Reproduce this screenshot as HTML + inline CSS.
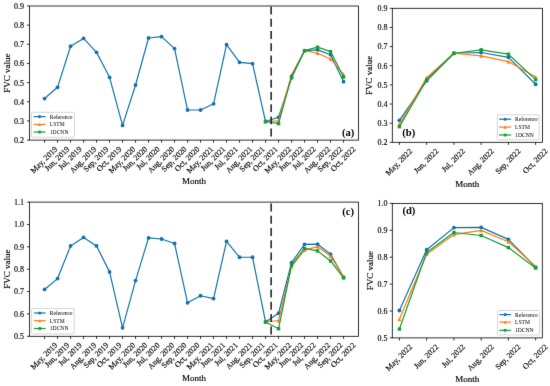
<!DOCTYPE html>
<html><head><meta charset="utf-8"><title>FVC value comparison</title><style>
html,body{margin:0;padding:0;background:#fff;}
body{width:550px;height:386px;overflow:hidden;}
svg{display:block;}
text{font-family:"Liberation Serif","Times New Roman",serif;fill:#000;}
.tk{font-size:8.0px;stroke:#000;stroke-width:0.15px;}
.al{font-size:9.0px;stroke:#000;stroke-width:0.15px;}
.lg{font-size:5.6px;}
.pl{font-size:10.6px;font-weight:bold;}
</style></head>
<body><svg width="550" height="386" viewBox="0 0 550 386">
<defs><filter id="soft" x="0" y="0" width="550" height="386" filterUnits="userSpaceOnUse" color-interpolation-filters="sRGB"><feConvolveMatrix order="3" kernelMatrix="0.00524 0.06192 0.00524 0.06192 0.73137 0.06192 0.00524 0.06192 0.00524" divisor="1" edgeMode="duplicate"/></filter></defs>
<g filter="url(#soft)">
<rect width="550" height="386" fill="#fff"/>
<g>
<clipPath id="clipa"><rect x="29.6" y="6.0" width="328.9" height="134.1"/></clipPath>
<polyline points="44.55,98.53 57.55,87.32 70.55,46.23 83.55,38.43 96.55,52.36 109.55,77.34 122.55,125.43 135.55,85.02 148.55,37.99 161.55,36.65 174.55,48.61 187.55,110.02 200.55,110.02 213.55,103.78 226.55,44.70 239.55,62.32 252.55,63.66 265.55,121.52 278.55,117.30 291.55,77.84 304.55,50.64 317.55,49.87 330.55,54.72 343.55,81.67" fill="none" stroke="#1272a8" stroke-width="1.2" stroke-linejoin="round" stroke-linecap="butt" clip-path="url(#clipa)"/>
<circle cx="44.55" cy="98.53" r="1.90" fill="#1272a8"/>
<circle cx="57.55" cy="87.32" r="1.90" fill="#1272a8"/>
<circle cx="70.55" cy="46.23" r="1.90" fill="#1272a8"/>
<circle cx="83.55" cy="38.43" r="1.90" fill="#1272a8"/>
<circle cx="96.55" cy="52.36" r="1.90" fill="#1272a8"/>
<circle cx="109.55" cy="77.34" r="1.90" fill="#1272a8"/>
<circle cx="122.55" cy="125.43" r="1.90" fill="#1272a8"/>
<circle cx="135.55" cy="85.02" r="1.90" fill="#1272a8"/>
<circle cx="148.55" cy="37.99" r="1.90" fill="#1272a8"/>
<circle cx="161.55" cy="36.65" r="1.90" fill="#1272a8"/>
<circle cx="174.55" cy="48.61" r="1.90" fill="#1272a8"/>
<circle cx="187.55" cy="110.02" r="1.90" fill="#1272a8"/>
<circle cx="200.55" cy="110.02" r="1.90" fill="#1272a8"/>
<circle cx="213.55" cy="103.78" r="1.90" fill="#1272a8"/>
<circle cx="226.55" cy="44.70" r="1.90" fill="#1272a8"/>
<circle cx="239.55" cy="62.32" r="1.90" fill="#1272a8"/>
<circle cx="252.55" cy="63.66" r="1.90" fill="#1272a8"/>
<circle cx="265.55" cy="121.52" r="1.90" fill="#1272a8"/>
<circle cx="278.55" cy="117.30" r="1.90" fill="#1272a8"/>
<circle cx="291.55" cy="77.84" r="1.90" fill="#1272a8"/>
<circle cx="304.55" cy="50.64" r="1.90" fill="#1272a8"/>
<circle cx="317.55" cy="49.87" r="1.90" fill="#1272a8"/>
<circle cx="330.55" cy="54.72" r="1.90" fill="#1272a8"/>
<circle cx="343.55" cy="81.67" r="1.90" fill="#1272a8"/>
<polyline points="265.55,121.52 278.55,120.94 291.55,74.77 304.55,50.64 317.55,53.22 330.55,58.93 343.55,74.39" fill="none" stroke="#fb7d12" stroke-width="1.2" stroke-linejoin="round" stroke-linecap="butt" clip-path="url(#clipa)"/>
<polygon points="265.55,119.62 263.65,123.42 267.45,123.42" fill="#fb7d12"/>
<polygon points="278.55,119.04 276.65,122.84 280.45,122.84" fill="#fb7d12"/>
<polygon points="291.55,72.87 289.65,76.67 293.45,76.67" fill="#fb7d12"/>
<polygon points="304.55,48.74 302.65,52.54 306.45,52.54" fill="#fb7d12"/>
<polygon points="317.55,51.32 315.65,55.12 319.45,55.12" fill="#fb7d12"/>
<polygon points="330.55,57.03 328.65,60.83 332.45,60.83" fill="#fb7d12"/>
<polygon points="343.55,72.49 341.65,76.29 345.45,76.29" fill="#fb7d12"/>
<polyline points="265.55,121.52 278.55,123.62 291.55,76.69 304.55,50.64 317.55,47.19 330.55,51.59 343.55,77.07" fill="none" stroke="#169c34" stroke-width="1.2" stroke-linejoin="round" stroke-linecap="butt" clip-path="url(#clipa)"/>
<rect x="263.87" y="119.83" width="3.37" height="3.37" fill="#169c34"/>
<rect x="276.87" y="121.94" width="3.37" height="3.37" fill="#169c34"/>
<rect x="289.87" y="75.01" width="3.37" height="3.37" fill="#169c34"/>
<rect x="302.87" y="48.95" width="3.37" height="3.37" fill="#169c34"/>
<rect x="315.87" y="45.50" width="3.37" height="3.37" fill="#169c34"/>
<rect x="328.87" y="49.91" width="3.37" height="3.37" fill="#169c34"/>
<rect x="341.87" y="75.39" width="3.37" height="3.37" fill="#169c34"/>
<line x1="271.14" y1="6.60" x2="271.14" y2="140.10" stroke="#1a1a1a" stroke-width="1.5" stroke-dasharray="7.9 4.3"/>
<rect x="29.60" y="6.00" width="328.90" height="134.10" fill="none" stroke="#000" stroke-width="0.8"/>
<line x1="27.00" y1="140.10" x2="29.60" y2="140.10" stroke="#000" stroke-width="0.8"/>
<text x="24.10" y="143.00" text-anchor="end" class="tk">0.2</text>
<line x1="27.00" y1="120.94" x2="29.60" y2="120.94" stroke="#000" stroke-width="0.8"/>
<text x="24.10" y="123.84" text-anchor="end" class="tk">0.3</text>
<line x1="27.00" y1="101.79" x2="29.60" y2="101.79" stroke="#000" stroke-width="0.8"/>
<text x="24.10" y="104.69" text-anchor="end" class="tk">0.4</text>
<line x1="27.00" y1="82.63" x2="29.60" y2="82.63" stroke="#000" stroke-width="0.8"/>
<text x="24.10" y="85.53" text-anchor="end" class="tk">0.5</text>
<line x1="27.00" y1="63.47" x2="29.60" y2="63.47" stroke="#000" stroke-width="0.8"/>
<text x="24.10" y="66.37" text-anchor="end" class="tk">0.6</text>
<line x1="27.00" y1="44.31" x2="29.60" y2="44.31" stroke="#000" stroke-width="0.8"/>
<text x="24.10" y="47.21" text-anchor="end" class="tk">0.7</text>
<line x1="27.00" y1="25.16" x2="29.60" y2="25.16" stroke="#000" stroke-width="0.8"/>
<text x="24.10" y="28.06" text-anchor="end" class="tk">0.8</text>
<line x1="27.00" y1="6.00" x2="29.60" y2="6.00" stroke="#000" stroke-width="0.8"/>
<text x="24.10" y="8.90" text-anchor="end" class="tk">0.9</text>
<line x1="44.55" y1="140.10" x2="44.55" y2="142.70" stroke="#000" stroke-width="0.8"/>
<text transform="translate(57.94,149.56) rotate(-45)" text-anchor="end" class="tk">May, 2019</text>
<line x1="57.55" y1="140.10" x2="57.55" y2="142.70" stroke="#000" stroke-width="0.8"/>
<text transform="translate(69.87,149.56) rotate(-45)" text-anchor="end" class="tk">Jun, 2019</text>
<line x1="70.55" y1="140.10" x2="70.55" y2="142.70" stroke="#000" stroke-width="0.8"/>
<text transform="translate(82.24,149.56) rotate(-45)" text-anchor="end" class="tk">Jul, 2019</text>
<line x1="83.55" y1="140.10" x2="83.55" y2="142.70" stroke="#000" stroke-width="0.8"/>
<text transform="translate(96.81,149.56) rotate(-45)" text-anchor="end" class="tk">Aug, 2019</text>
<line x1="96.55" y1="140.10" x2="96.55" y2="142.70" stroke="#000" stroke-width="0.8"/>
<text transform="translate(109.18,149.56) rotate(-45)" text-anchor="end" class="tk">Sep, 2019</text>
<line x1="109.55" y1="140.10" x2="109.55" y2="142.70" stroke="#000" stroke-width="0.8"/>
<text transform="translate(122.02,149.56) rotate(-45)" text-anchor="end" class="tk">Oct, 2019</text>
<line x1="122.55" y1="140.10" x2="122.55" y2="142.70" stroke="#000" stroke-width="0.8"/>
<text transform="translate(135.94,149.56) rotate(-45)" text-anchor="end" class="tk">May, 2020</text>
<line x1="135.55" y1="140.10" x2="135.55" y2="142.70" stroke="#000" stroke-width="0.8"/>
<text transform="translate(147.87,149.56) rotate(-45)" text-anchor="end" class="tk">Jun, 2020</text>
<line x1="148.55" y1="140.10" x2="148.55" y2="142.70" stroke="#000" stroke-width="0.8"/>
<text transform="translate(160.24,149.56) rotate(-45)" text-anchor="end" class="tk">Jul, 2020</text>
<line x1="161.55" y1="140.10" x2="161.55" y2="142.70" stroke="#000" stroke-width="0.8"/>
<text transform="translate(174.81,149.56) rotate(-45)" text-anchor="end" class="tk">Aug, 2020</text>
<line x1="174.55" y1="140.10" x2="174.55" y2="142.70" stroke="#000" stroke-width="0.8"/>
<text transform="translate(187.18,149.56) rotate(-45)" text-anchor="end" class="tk">Sep, 2020</text>
<line x1="187.55" y1="140.10" x2="187.55" y2="142.70" stroke="#000" stroke-width="0.8"/>
<text transform="translate(200.02,149.56) rotate(-45)" text-anchor="end" class="tk">Oct, 2020</text>
<line x1="200.55" y1="140.10" x2="200.55" y2="142.70" stroke="#000" stroke-width="0.8"/>
<text transform="translate(213.94,149.56) rotate(-45)" text-anchor="end" class="tk">May, 2021</text>
<line x1="213.55" y1="140.10" x2="213.55" y2="142.70" stroke="#000" stroke-width="0.8"/>
<text transform="translate(225.87,149.56) rotate(-45)" text-anchor="end" class="tk">Jun, 2021</text>
<line x1="226.55" y1="140.10" x2="226.55" y2="142.70" stroke="#000" stroke-width="0.8"/>
<text transform="translate(238.24,149.56) rotate(-45)" text-anchor="end" class="tk">Jul, 2021</text>
<line x1="239.55" y1="140.10" x2="239.55" y2="142.70" stroke="#000" stroke-width="0.8"/>
<text transform="translate(252.81,149.56) rotate(-45)" text-anchor="end" class="tk">Aug, 2021</text>
<line x1="252.55" y1="140.10" x2="252.55" y2="142.70" stroke="#000" stroke-width="0.8"/>
<text transform="translate(265.18,149.56) rotate(-45)" text-anchor="end" class="tk">Sep, 2021</text>
<line x1="265.55" y1="140.10" x2="265.55" y2="142.70" stroke="#000" stroke-width="0.8"/>
<text transform="translate(278.02,149.56) rotate(-45)" text-anchor="end" class="tk">Oct, 2021</text>
<line x1="278.55" y1="140.10" x2="278.55" y2="142.70" stroke="#000" stroke-width="0.8"/>
<text transform="translate(291.94,149.56) rotate(-45)" text-anchor="end" class="tk">May, 2022</text>
<line x1="291.55" y1="140.10" x2="291.55" y2="142.70" stroke="#000" stroke-width="0.8"/>
<text transform="translate(303.87,149.56) rotate(-45)" text-anchor="end" class="tk">Jun, 2022</text>
<line x1="304.55" y1="140.10" x2="304.55" y2="142.70" stroke="#000" stroke-width="0.8"/>
<text transform="translate(316.24,149.56) rotate(-45)" text-anchor="end" class="tk">Jul, 2022</text>
<line x1="317.55" y1="140.10" x2="317.55" y2="142.70" stroke="#000" stroke-width="0.8"/>
<text transform="translate(330.81,149.56) rotate(-45)" text-anchor="end" class="tk">Aug, 2022</text>
<line x1="330.55" y1="140.10" x2="330.55" y2="142.70" stroke="#000" stroke-width="0.8"/>
<text transform="translate(343.18,149.56) rotate(-45)" text-anchor="end" class="tk">Sep, 2022</text>
<line x1="343.55" y1="140.10" x2="343.55" y2="142.70" stroke="#000" stroke-width="0.8"/>
<text transform="translate(356.02,149.56) rotate(-45)" text-anchor="end" class="tk">Oct, 2022</text>
<text x="194.05" y="184.20" text-anchor="middle" class="al">Month</text>
<text transform="translate(10.20,73.05) rotate(-90)" text-anchor="middle" class="al">FVC value</text>
<text x="341.90" y="136.00" class="pl">(a)</text>
<rect x="31.50" y="112.30" width="43.00" height="25.00" rx="1.2" ry="1.2" fill="#fff" fill-opacity="0.8" stroke="#cccccc" stroke-width="0.8"/>
<line x1="33.60" y1="116.60" x2="45.50" y2="116.60" stroke="#1272a8" stroke-width="1.2"/>
<circle cx="39.55" cy="116.60" r="1.56" fill="#1272a8"/>
<text x="49.80" y="118.50" class="lg">Reference</text>
<line x1="33.60" y1="124.40" x2="45.50" y2="124.40" stroke="#fb7d12" stroke-width="1.2"/>
<polygon points="39.55,122.84 37.99,125.96 41.11,125.96" fill="#fb7d12"/>
<text x="49.80" y="126.30" class="lg">LSTM</text>
<line x1="33.60" y1="132.00" x2="45.50" y2="132.00" stroke="#169c34" stroke-width="1.2"/>
<rect x="38.17" y="130.62" width="2.76" height="2.76" fill="#169c34"/>
<text x="49.80" y="133.90" class="lg">1DCNN</text>
</g>
<g>
<clipPath id="clipb"><rect x="392.3" y="8.3" width="150.09999999999997" height="134.0"/></clipPath>
<polyline points="399.40,120.35 426.65,80.82 453.90,53.25 481.15,52.49 508.40,57.33 535.65,84.26" fill="none" stroke="#1272a8" stroke-width="1.2" stroke-linejoin="round" stroke-linecap="butt" clip-path="url(#clipb)"/>
<circle cx="399.40" cy="120.35" r="1.90" fill="#1272a8"/>
<circle cx="426.65" cy="80.82" r="1.90" fill="#1272a8"/>
<circle cx="453.90" cy="53.25" r="1.90" fill="#1272a8"/>
<circle cx="481.15" cy="52.49" r="1.90" fill="#1272a8"/>
<circle cx="508.40" cy="57.33" r="1.90" fill="#1272a8"/>
<circle cx="535.65" cy="84.26" r="1.90" fill="#1272a8"/>
<polyline points="399.40,123.99 426.65,77.76 453.90,53.25 481.15,55.84 508.40,61.54 535.65,76.99" fill="none" stroke="#fb7d12" stroke-width="1.2" stroke-linejoin="round" stroke-linecap="butt" clip-path="url(#clipb)"/>
<polygon points="399.40,122.09 397.50,125.89 401.30,125.89" fill="#fb7d12"/>
<polygon points="426.65,75.86 424.75,79.66 428.55,79.66" fill="#fb7d12"/>
<polygon points="453.90,51.35 452.00,55.15 455.80,55.15" fill="#fb7d12"/>
<polygon points="481.15,53.94 479.25,57.74 483.05,57.74" fill="#fb7d12"/>
<polygon points="508.40,59.64 506.50,63.44 510.30,63.44" fill="#fb7d12"/>
<polygon points="535.65,75.09 533.75,78.89 537.55,78.89" fill="#fb7d12"/>
<polyline points="399.40,126.67 426.65,79.67 453.90,53.25 481.15,49.81 508.40,54.21 535.65,79.67" fill="none" stroke="#169c34" stroke-width="1.2" stroke-linejoin="round" stroke-linecap="butt" clip-path="url(#clipb)"/>
<rect x="397.72" y="124.98" width="3.37" height="3.37" fill="#169c34"/>
<rect x="424.97" y="77.99" width="3.37" height="3.37" fill="#169c34"/>
<rect x="452.22" y="51.57" width="3.37" height="3.37" fill="#169c34"/>
<rect x="479.47" y="48.12" width="3.37" height="3.37" fill="#169c34"/>
<rect x="506.72" y="52.53" width="3.37" height="3.37" fill="#169c34"/>
<rect x="533.97" y="77.99" width="3.37" height="3.37" fill="#169c34"/>
<rect x="392.30" y="8.30" width="150.10" height="134.00" fill="none" stroke="#000" stroke-width="0.8"/>
<line x1="389.70" y1="142.30" x2="392.30" y2="142.30" stroke="#000" stroke-width="0.8"/>
<text x="387.50" y="145.20" text-anchor="end" class="tk">0.2</text>
<line x1="389.70" y1="123.16" x2="392.30" y2="123.16" stroke="#000" stroke-width="0.8"/>
<text x="387.50" y="126.06" text-anchor="end" class="tk">0.3</text>
<line x1="389.70" y1="104.01" x2="392.30" y2="104.01" stroke="#000" stroke-width="0.8"/>
<text x="387.50" y="106.91" text-anchor="end" class="tk">0.4</text>
<line x1="389.70" y1="84.87" x2="392.30" y2="84.87" stroke="#000" stroke-width="0.8"/>
<text x="387.50" y="87.77" text-anchor="end" class="tk">0.5</text>
<line x1="389.70" y1="65.73" x2="392.30" y2="65.73" stroke="#000" stroke-width="0.8"/>
<text x="387.50" y="68.63" text-anchor="end" class="tk">0.6</text>
<line x1="389.70" y1="46.59" x2="392.30" y2="46.59" stroke="#000" stroke-width="0.8"/>
<text x="387.50" y="49.49" text-anchor="end" class="tk">0.7</text>
<line x1="389.70" y1="27.44" x2="392.30" y2="27.44" stroke="#000" stroke-width="0.8"/>
<text x="387.50" y="30.34" text-anchor="end" class="tk">0.8</text>
<line x1="389.70" y1="8.30" x2="392.30" y2="8.30" stroke="#000" stroke-width="0.8"/>
<text x="387.50" y="11.20" text-anchor="end" class="tk">0.9</text>
<line x1="399.40" y1="142.30" x2="399.40" y2="144.90" stroke="#000" stroke-width="0.8"/>
<text transform="translate(412.79,151.76) rotate(-45)" text-anchor="end" class="tk">May, 2022</text>
<line x1="426.65" y1="142.30" x2="426.65" y2="144.90" stroke="#000" stroke-width="0.8"/>
<text transform="translate(438.97,151.76) rotate(-45)" text-anchor="end" class="tk">Jun, 2022</text>
<line x1="453.90" y1="142.30" x2="453.90" y2="144.90" stroke="#000" stroke-width="0.8"/>
<text transform="translate(465.59,151.76) rotate(-45)" text-anchor="end" class="tk">Jul, 2022</text>
<line x1="481.15" y1="142.30" x2="481.15" y2="144.90" stroke="#000" stroke-width="0.8"/>
<text transform="translate(494.41,151.76) rotate(-45)" text-anchor="end" class="tk">Aug, 2022</text>
<line x1="508.40" y1="142.30" x2="508.40" y2="144.90" stroke="#000" stroke-width="0.8"/>
<text transform="translate(521.03,151.76) rotate(-45)" text-anchor="end" class="tk">Sep, 2022</text>
<line x1="535.65" y1="142.30" x2="535.65" y2="144.90" stroke="#000" stroke-width="0.8"/>
<text transform="translate(548.12,151.76) rotate(-45)" text-anchor="end" class="tk">Oct, 2022</text>
<text x="467.35" y="186.60" text-anchor="middle" class="al">Month</text>
<text transform="translate(372.40,75.30) rotate(-90)" text-anchor="middle" class="al">FVC value</text>
<text x="402.30" y="136.10" class="pl">(b)</text>
<rect x="497.30" y="114.80" width="41.90" height="25.00" rx="1.2" ry="1.2" fill="#fff" fill-opacity="0.8" stroke="#cccccc" stroke-width="0.8"/>
<line x1="499.10" y1="119.20" x2="511.20" y2="119.20" stroke="#1272a8" stroke-width="1.2"/>
<circle cx="505.15" cy="119.20" r="1.56" fill="#1272a8"/>
<text x="515.10" y="121.10" class="lg">Reference</text>
<line x1="499.10" y1="127.10" x2="511.20" y2="127.10" stroke="#fb7d12" stroke-width="1.2"/>
<polygon points="505.15,125.54 503.59,128.66 506.71,128.66" fill="#fb7d12"/>
<text x="515.10" y="129.00" class="lg">LSTM</text>
<line x1="499.10" y1="135.00" x2="511.20" y2="135.00" stroke="#169c34" stroke-width="1.2"/>
<rect x="503.77" y="133.62" width="2.76" height="2.76" fill="#169c34"/>
<text x="515.10" y="136.90" class="lg">1DCNN</text>
</g>
<g>
<clipPath id="clipc"><rect x="29.6" y="202.1" width="328.9" height="134.20000000000002"/></clipPath>
<polyline points="44.55,289.42 57.55,278.59 70.55,245.94 83.55,237.44 96.55,245.94 109.55,271.88 122.55,327.80 135.55,280.61 148.55,237.89 161.55,239.00 174.55,243.48 187.55,302.82 200.55,295.73 213.55,298.61 226.55,241.35 239.55,257.26 252.55,257.26 265.55,321.99 278.55,313.26 291.55,262.71 304.55,244.37 317.55,244.15 330.55,254.15 343.55,277.25" fill="none" stroke="#1272a8" stroke-width="1.2" stroke-linejoin="round" stroke-linecap="butt" clip-path="url(#clipc)"/>
<circle cx="44.55" cy="289.42" r="1.90" fill="#1272a8"/>
<circle cx="57.55" cy="278.59" r="1.90" fill="#1272a8"/>
<circle cx="70.55" cy="245.94" r="1.90" fill="#1272a8"/>
<circle cx="83.55" cy="237.44" r="1.90" fill="#1272a8"/>
<circle cx="96.55" cy="245.94" r="1.90" fill="#1272a8"/>
<circle cx="109.55" cy="271.88" r="1.90" fill="#1272a8"/>
<circle cx="122.55" cy="327.80" r="1.90" fill="#1272a8"/>
<circle cx="135.55" cy="280.61" r="1.90" fill="#1272a8"/>
<circle cx="148.55" cy="237.89" r="1.90" fill="#1272a8"/>
<circle cx="161.55" cy="239.00" r="1.90" fill="#1272a8"/>
<circle cx="174.55" cy="243.48" r="1.90" fill="#1272a8"/>
<circle cx="187.55" cy="302.82" r="1.90" fill="#1272a8"/>
<circle cx="200.55" cy="295.73" r="1.90" fill="#1272a8"/>
<circle cx="213.55" cy="298.61" r="1.90" fill="#1272a8"/>
<circle cx="226.55" cy="241.35" r="1.90" fill="#1272a8"/>
<circle cx="239.55" cy="257.26" r="1.90" fill="#1272a8"/>
<circle cx="252.55" cy="257.26" r="1.90" fill="#1272a8"/>
<circle cx="265.55" cy="321.99" r="1.90" fill="#1272a8"/>
<circle cx="278.55" cy="313.26" r="1.90" fill="#1272a8"/>
<circle cx="291.55" cy="262.71" r="1.90" fill="#1272a8"/>
<circle cx="304.55" cy="244.37" r="1.90" fill="#1272a8"/>
<circle cx="317.55" cy="244.15" r="1.90" fill="#1272a8"/>
<circle cx="330.55" cy="254.15" r="1.90" fill="#1272a8"/>
<circle cx="343.55" cy="277.25" r="1.90" fill="#1272a8"/>
<polyline points="265.55,321.99 278.55,320.51 291.55,266.45 304.55,250.19 317.55,246.68 330.55,256.07 343.55,276.58" fill="none" stroke="#fb7d12" stroke-width="1.2" stroke-linejoin="round" stroke-linecap="butt" clip-path="url(#clipc)"/>
<polygon points="265.55,320.09 263.65,323.89 267.45,323.89" fill="#fb7d12"/>
<polygon points="278.55,318.61 276.65,322.41 280.45,322.41" fill="#fb7d12"/>
<polygon points="291.55,264.55 289.65,268.35 293.45,268.35" fill="#fb7d12"/>
<polygon points="304.55,248.29 302.65,252.09 306.45,252.09" fill="#fb7d12"/>
<polygon points="317.55,244.78 315.65,248.58 319.45,248.58" fill="#fb7d12"/>
<polygon points="330.55,254.17 328.65,257.97 332.45,257.97" fill="#fb7d12"/>
<polygon points="343.55,274.68 341.65,278.48 345.45,278.48" fill="#fb7d12"/>
<polyline points="265.55,321.99 278.55,328.70 291.55,265.04 304.55,248.40 317.55,250.90 330.55,260.97 343.55,277.92" fill="none" stroke="#169c34" stroke-width="1.2" stroke-linejoin="round" stroke-linecap="butt" clip-path="url(#clipc)"/>
<rect x="263.87" y="320.30" width="3.37" height="3.37" fill="#169c34"/>
<rect x="276.87" y="327.01" width="3.37" height="3.37" fill="#169c34"/>
<rect x="289.87" y="263.36" width="3.37" height="3.37" fill="#169c34"/>
<rect x="302.87" y="246.72" width="3.37" height="3.37" fill="#169c34"/>
<rect x="315.87" y="249.22" width="3.37" height="3.37" fill="#169c34"/>
<rect x="328.87" y="259.29" width="3.37" height="3.37" fill="#169c34"/>
<rect x="341.87" y="276.24" width="3.37" height="3.37" fill="#169c34"/>
<line x1="271.14" y1="203.40" x2="271.14" y2="336.30" stroke="#1a1a1a" stroke-width="1.5" stroke-dasharray="8.0 4.3"/>
<rect x="29.60" y="202.10" width="328.90" height="134.20" fill="none" stroke="#000" stroke-width="0.8"/>
<line x1="27.00" y1="336.30" x2="29.60" y2="336.30" stroke="#000" stroke-width="0.8"/>
<text x="24.10" y="339.20" text-anchor="end" class="tk">0.5</text>
<line x1="27.00" y1="313.93" x2="29.60" y2="313.93" stroke="#000" stroke-width="0.8"/>
<text x="24.10" y="316.83" text-anchor="end" class="tk">0.6</text>
<line x1="27.00" y1="291.57" x2="29.60" y2="291.57" stroke="#000" stroke-width="0.8"/>
<text x="24.10" y="294.47" text-anchor="end" class="tk">0.7</text>
<line x1="27.00" y1="269.20" x2="29.60" y2="269.20" stroke="#000" stroke-width="0.8"/>
<text x="24.10" y="272.10" text-anchor="end" class="tk">0.8</text>
<line x1="27.00" y1="246.83" x2="29.60" y2="246.83" stroke="#000" stroke-width="0.8"/>
<text x="24.10" y="249.73" text-anchor="end" class="tk">0.9</text>
<line x1="27.00" y1="224.47" x2="29.60" y2="224.47" stroke="#000" stroke-width="0.8"/>
<text x="24.10" y="227.37" text-anchor="end" class="tk">1.0</text>
<line x1="27.00" y1="202.10" x2="29.60" y2="202.10" stroke="#000" stroke-width="0.8"/>
<text x="24.10" y="205.00" text-anchor="end" class="tk">1.1</text>
<line x1="44.55" y1="336.30" x2="44.55" y2="338.90" stroke="#000" stroke-width="0.8"/>
<text transform="translate(57.94,345.76) rotate(-45)" text-anchor="end" class="tk">May, 2019</text>
<line x1="57.55" y1="336.30" x2="57.55" y2="338.90" stroke="#000" stroke-width="0.8"/>
<text transform="translate(69.87,345.76) rotate(-45)" text-anchor="end" class="tk">Jun, 2019</text>
<line x1="70.55" y1="336.30" x2="70.55" y2="338.90" stroke="#000" stroke-width="0.8"/>
<text transform="translate(82.24,345.76) rotate(-45)" text-anchor="end" class="tk">Jul, 2019</text>
<line x1="83.55" y1="336.30" x2="83.55" y2="338.90" stroke="#000" stroke-width="0.8"/>
<text transform="translate(96.81,345.76) rotate(-45)" text-anchor="end" class="tk">Aug, 2019</text>
<line x1="96.55" y1="336.30" x2="96.55" y2="338.90" stroke="#000" stroke-width="0.8"/>
<text transform="translate(109.18,345.76) rotate(-45)" text-anchor="end" class="tk">Sep, 2019</text>
<line x1="109.55" y1="336.30" x2="109.55" y2="338.90" stroke="#000" stroke-width="0.8"/>
<text transform="translate(122.02,345.76) rotate(-45)" text-anchor="end" class="tk">Oct, 2019</text>
<line x1="122.55" y1="336.30" x2="122.55" y2="338.90" stroke="#000" stroke-width="0.8"/>
<text transform="translate(135.94,345.76) rotate(-45)" text-anchor="end" class="tk">May, 2020</text>
<line x1="135.55" y1="336.30" x2="135.55" y2="338.90" stroke="#000" stroke-width="0.8"/>
<text transform="translate(147.87,345.76) rotate(-45)" text-anchor="end" class="tk">Jun, 2020</text>
<line x1="148.55" y1="336.30" x2="148.55" y2="338.90" stroke="#000" stroke-width="0.8"/>
<text transform="translate(160.24,345.76) rotate(-45)" text-anchor="end" class="tk">Jul, 2020</text>
<line x1="161.55" y1="336.30" x2="161.55" y2="338.90" stroke="#000" stroke-width="0.8"/>
<text transform="translate(174.81,345.76) rotate(-45)" text-anchor="end" class="tk">Aug, 2020</text>
<line x1="174.55" y1="336.30" x2="174.55" y2="338.90" stroke="#000" stroke-width="0.8"/>
<text transform="translate(187.18,345.76) rotate(-45)" text-anchor="end" class="tk">Sep, 2020</text>
<line x1="187.55" y1="336.30" x2="187.55" y2="338.90" stroke="#000" stroke-width="0.8"/>
<text transform="translate(200.02,345.76) rotate(-45)" text-anchor="end" class="tk">Oct, 2020</text>
<line x1="200.55" y1="336.30" x2="200.55" y2="338.90" stroke="#000" stroke-width="0.8"/>
<text transform="translate(213.94,345.76) rotate(-45)" text-anchor="end" class="tk">May, 2021</text>
<line x1="213.55" y1="336.30" x2="213.55" y2="338.90" stroke="#000" stroke-width="0.8"/>
<text transform="translate(225.87,345.76) rotate(-45)" text-anchor="end" class="tk">Jun, 2021</text>
<line x1="226.55" y1="336.30" x2="226.55" y2="338.90" stroke="#000" stroke-width="0.8"/>
<text transform="translate(238.24,345.76) rotate(-45)" text-anchor="end" class="tk">Jul, 2021</text>
<line x1="239.55" y1="336.30" x2="239.55" y2="338.90" stroke="#000" stroke-width="0.8"/>
<text transform="translate(252.81,345.76) rotate(-45)" text-anchor="end" class="tk">Aug, 2021</text>
<line x1="252.55" y1="336.30" x2="252.55" y2="338.90" stroke="#000" stroke-width="0.8"/>
<text transform="translate(265.18,345.76) rotate(-45)" text-anchor="end" class="tk">Sep, 2021</text>
<line x1="265.55" y1="336.30" x2="265.55" y2="338.90" stroke="#000" stroke-width="0.8"/>
<text transform="translate(278.02,345.76) rotate(-45)" text-anchor="end" class="tk">Oct, 2021</text>
<line x1="278.55" y1="336.30" x2="278.55" y2="338.90" stroke="#000" stroke-width="0.8"/>
<text transform="translate(291.94,345.76) rotate(-45)" text-anchor="end" class="tk">May, 2022</text>
<line x1="291.55" y1="336.30" x2="291.55" y2="338.90" stroke="#000" stroke-width="0.8"/>
<text transform="translate(303.87,345.76) rotate(-45)" text-anchor="end" class="tk">Jun, 2022</text>
<line x1="304.55" y1="336.30" x2="304.55" y2="338.90" stroke="#000" stroke-width="0.8"/>
<text transform="translate(316.24,345.76) rotate(-45)" text-anchor="end" class="tk">Jul, 2022</text>
<line x1="317.55" y1="336.30" x2="317.55" y2="338.90" stroke="#000" stroke-width="0.8"/>
<text transform="translate(330.81,345.76) rotate(-45)" text-anchor="end" class="tk">Aug, 2022</text>
<line x1="330.55" y1="336.30" x2="330.55" y2="338.90" stroke="#000" stroke-width="0.8"/>
<text transform="translate(343.18,345.76) rotate(-45)" text-anchor="end" class="tk">Sep, 2022</text>
<line x1="343.55" y1="336.30" x2="343.55" y2="338.90" stroke="#000" stroke-width="0.8"/>
<text transform="translate(356.02,345.76) rotate(-45)" text-anchor="end" class="tk">Oct, 2022</text>
<text x="194.05" y="380.70" text-anchor="middle" class="al">Month</text>
<text transform="translate(9.60,269.20) rotate(-90)" text-anchor="middle" class="al">FVC value</text>
<text x="342.30" y="214.60" class="pl">(c)</text>
<rect x="31.60" y="308.50" width="42.60" height="25.50" rx="1.2" ry="1.2" fill="#fff" fill-opacity="0.8" stroke="#cccccc" stroke-width="0.8"/>
<line x1="34.00" y1="313.00" x2="45.60" y2="313.00" stroke="#1272a8" stroke-width="1.2"/>
<circle cx="39.80" cy="313.00" r="1.56" fill="#1272a8"/>
<text x="49.80" y="314.90" class="lg">Reference</text>
<line x1="34.00" y1="320.70" x2="45.60" y2="320.70" stroke="#fb7d12" stroke-width="1.2"/>
<polygon points="39.80,319.14 38.24,322.26 41.36,322.26" fill="#fb7d12"/>
<text x="49.80" y="322.60" class="lg">LSTM</text>
<line x1="34.00" y1="328.50" x2="45.60" y2="328.50" stroke="#169c34" stroke-width="1.2"/>
<rect x="38.42" y="327.12" width="2.76" height="2.76" fill="#169c34"/>
<text x="49.80" y="330.40" class="lg">1DCNN</text>
</g>
<g>
<clipPath id="clipd"><rect x="392.3" y="203.4" width="149.99999999999994" height="134.49999999999997"/></clipPath>
<polyline points="399.40,310.49 426.65,249.70 453.90,227.64 481.15,227.37 508.40,239.40 535.65,267.18" fill="none" stroke="#1272a8" stroke-width="1.2" stroke-linejoin="round" stroke-linecap="butt" clip-path="url(#clipd)"/>
<circle cx="399.40" cy="310.49" r="1.90" fill="#1272a8"/>
<circle cx="426.65" cy="249.70" r="1.90" fill="#1272a8"/>
<circle cx="453.90" cy="227.64" r="1.90" fill="#1272a8"/>
<circle cx="481.15" cy="227.37" r="1.90" fill="#1272a8"/>
<circle cx="508.40" cy="239.40" r="1.90" fill="#1272a8"/>
<circle cx="535.65" cy="267.18" r="1.90" fill="#1272a8"/>
<polyline points="399.40,319.21 426.65,254.19 453.90,234.63 481.15,230.41 508.40,241.71 535.65,266.38" fill="none" stroke="#fb7d12" stroke-width="1.2" stroke-linejoin="round" stroke-linecap="butt" clip-path="url(#clipd)"/>
<polygon points="399.40,317.31 397.50,321.11 401.30,321.11" fill="#fb7d12"/>
<polygon points="426.65,252.29 424.75,256.09 428.55,256.09" fill="#fb7d12"/>
<polygon points="453.90,232.73 452.00,236.53 455.80,236.53" fill="#fb7d12"/>
<polygon points="481.15,228.51 479.25,232.31 483.05,232.31" fill="#fb7d12"/>
<polygon points="508.40,239.81 506.50,243.61 510.30,243.61" fill="#fb7d12"/>
<polygon points="535.65,264.48 533.75,268.28 537.55,268.28" fill="#fb7d12"/>
<polyline points="399.40,329.05 426.65,252.50 453.90,232.48 481.15,235.50 508.40,247.60 535.65,267.99" fill="none" stroke="#169c34" stroke-width="1.2" stroke-linejoin="round" stroke-linecap="butt" clip-path="url(#clipd)"/>
<rect x="397.72" y="327.37" width="3.37" height="3.37" fill="#169c34"/>
<rect x="424.97" y="250.81" width="3.37" height="3.37" fill="#169c34"/>
<rect x="452.22" y="230.80" width="3.37" height="3.37" fill="#169c34"/>
<rect x="479.47" y="233.81" width="3.37" height="3.37" fill="#169c34"/>
<rect x="506.72" y="245.92" width="3.37" height="3.37" fill="#169c34"/>
<rect x="533.97" y="266.31" width="3.37" height="3.37" fill="#169c34"/>
<rect x="392.30" y="203.40" width="150.00" height="134.50" fill="none" stroke="#000" stroke-width="0.8"/>
<line x1="389.70" y1="337.90" x2="392.30" y2="337.90" stroke="#000" stroke-width="0.8"/>
<text x="387.50" y="340.80" text-anchor="end" class="tk">0.5</text>
<line x1="389.70" y1="311.00" x2="392.30" y2="311.00" stroke="#000" stroke-width="0.8"/>
<text x="387.50" y="313.90" text-anchor="end" class="tk">0.6</text>
<line x1="389.70" y1="284.10" x2="392.30" y2="284.10" stroke="#000" stroke-width="0.8"/>
<text x="387.50" y="287.00" text-anchor="end" class="tk">0.7</text>
<line x1="389.70" y1="257.20" x2="392.30" y2="257.20" stroke="#000" stroke-width="0.8"/>
<text x="387.50" y="260.10" text-anchor="end" class="tk">0.8</text>
<line x1="389.70" y1="230.30" x2="392.30" y2="230.30" stroke="#000" stroke-width="0.8"/>
<text x="387.50" y="233.20" text-anchor="end" class="tk">0.9</text>
<line x1="389.70" y1="203.40" x2="392.30" y2="203.40" stroke="#000" stroke-width="0.8"/>
<text x="387.50" y="206.30" text-anchor="end" class="tk">1.0</text>
<line x1="399.40" y1="337.90" x2="399.40" y2="340.50" stroke="#000" stroke-width="0.8"/>
<text transform="translate(412.79,347.36) rotate(-45)" text-anchor="end" class="tk">May, 2022</text>
<line x1="426.65" y1="337.90" x2="426.65" y2="340.50" stroke="#000" stroke-width="0.8"/>
<text transform="translate(438.97,347.36) rotate(-45)" text-anchor="end" class="tk">Jun, 2022</text>
<line x1="453.90" y1="337.90" x2="453.90" y2="340.50" stroke="#000" stroke-width="0.8"/>
<text transform="translate(465.59,347.36) rotate(-45)" text-anchor="end" class="tk">Jul, 2022</text>
<line x1="481.15" y1="337.90" x2="481.15" y2="340.50" stroke="#000" stroke-width="0.8"/>
<text transform="translate(494.41,347.36) rotate(-45)" text-anchor="end" class="tk">Aug, 2022</text>
<line x1="508.40" y1="337.90" x2="508.40" y2="340.50" stroke="#000" stroke-width="0.8"/>
<text transform="translate(521.03,347.36) rotate(-45)" text-anchor="end" class="tk">Sep, 2022</text>
<line x1="535.65" y1="337.90" x2="535.65" y2="340.50" stroke="#000" stroke-width="0.8"/>
<text transform="translate(548.12,347.36) rotate(-45)" text-anchor="end" class="tk">Oct, 2022</text>
<text x="467.30" y="382.00" text-anchor="middle" class="al">Month</text>
<text transform="translate(372.70,270.65) rotate(-90)" text-anchor="middle" class="al">FVC value</text>
<text x="402.40" y="214.30" class="pl">(d)</text>
<rect x="497.60" y="310.50" width="41.90" height="24.50" rx="1.2" ry="1.2" fill="#fff" fill-opacity="0.8" stroke="#cccccc" stroke-width="0.8"/>
<line x1="499.30" y1="314.60" x2="511.00" y2="314.60" stroke="#1272a8" stroke-width="1.2"/>
<circle cx="505.15" cy="314.60" r="1.56" fill="#1272a8"/>
<text x="515.00" y="316.50" class="lg">Reference</text>
<line x1="499.30" y1="322.10" x2="511.00" y2="322.10" stroke="#fb7d12" stroke-width="1.2"/>
<polygon points="505.15,320.54 503.59,323.66 506.71,323.66" fill="#fb7d12"/>
<text x="515.00" y="324.00" class="lg">LSTM</text>
<line x1="499.30" y1="330.30" x2="511.00" y2="330.30" stroke="#169c34" stroke-width="1.2"/>
<rect x="503.77" y="328.92" width="2.76" height="2.76" fill="#169c34"/>
<text x="515.00" y="332.20" class="lg">1DCNN</text>
</g>
</g>
</svg></body></html>
